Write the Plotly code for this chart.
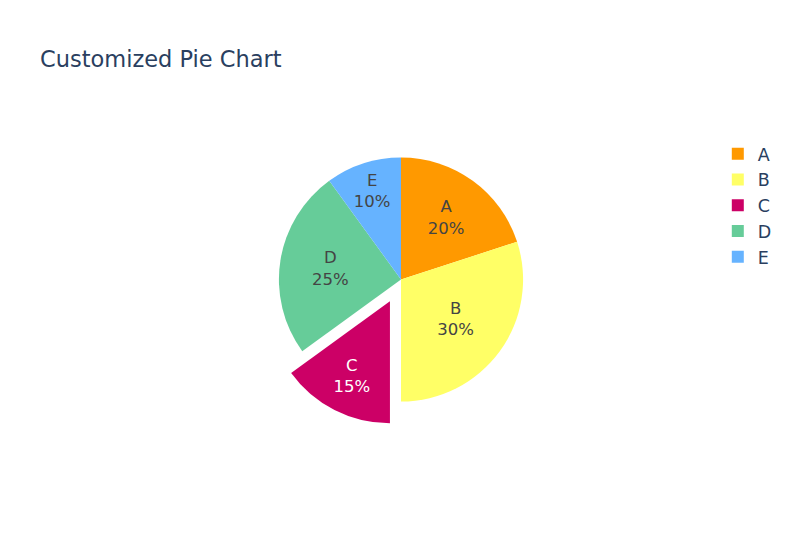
import plotly.graph_objects as go

labels = ["A", "B", "C", "D", "E"]
values = [20, 30, 15, 25, 10]
colors = ["#FF9900", "#FFFF66", "#CC0066", "#66CC99", "#66B3FF"]
pulls = [0, 0, 0.2, 0, 0]

fig = go.Figure(go.Pie(
    labels=labels, values=values, sort=False, direction="clockwise",
    marker=dict(colors=colors), pull=pulls, textinfo="label+percent",
    textfont=dict(size=16.5),
))
fig.update_layout(
    title=dict(text="Customized Pie Chart", font=dict(size=22.5), x=0.04, xref="container",
               y=0.905, yanchor="middle"),
    font=dict(family="DejaVu Sans", size=16),
    width=800, height=533,
    margin=dict(l=93, r=107, t=125, b=115),
    legend=dict(x=1.028, y=0.99, tracegroupgap=0, font=dict(size=17.5)),
)
fig.write_html("out.html")
